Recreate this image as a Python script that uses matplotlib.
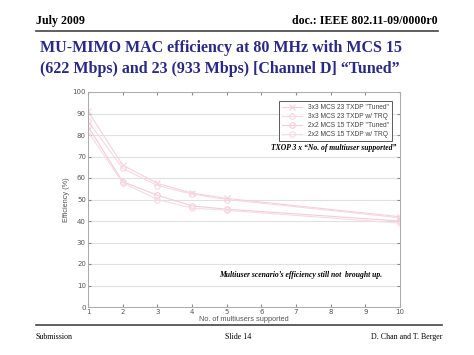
import numpy as np
import matplotlib.pyplot as plt
from matplotlib.lines import Line2D

# data
users = [1, 2, 3, 4, 5, 10]
eff_3x3_tuned = [91, 66, 57.5, 53, 50.5, 42]
eff_3x3_trq = [86.5, 64.5, 56.5, 52.5, 50, 41.5]
eff_2x2_tuned = [84, 58.3, 52, 47, 45.5, 40]
eff_2x2_trq = [81.5, 57.8, 50, 46, 45, 39]
labels = ['3x3 MCS 23 TXDP "Tuned"', '3x3 MCS 23 TXDP w/ TRQ',
          '2x2 MCS 15 TXDP "Tuned"', '2x2 MCS 15 TXDP w/ TRQ']

W, H = 474, 355
fig = plt.figure(figsize=(W / 100, H / 100), dpi=100)
fig.patch.set_facecolor('white')

serif = ['Liberation Serif', 'DejaVu Serif']
sans = ['Liberation Sans', 'DejaVu Sans']

# slide header
fig.text(36 / W, 1 - 21 / H, 'July 2009', family=serif, weight='bold', fontsize=8.6, va='center')
fig.text(438 / W, 1 - 21 / H, 'doc.: IEEE 802.11-09/0000r0', family=serif, weight='bold',
         fontsize=8.6, va='center', ha='right')
fig.add_artist(Line2D([36 / W, 438 / W], [1 - 31 / H, 1 - 31 / H], color='#444444', lw=1.2))
title_col = '#2a2a86'
fig.text(40 / W, 1 - 48 / H, 'MU-MIMO MAC efficiency at 80 MHz with MCS 15', family=serif,
         weight='bold', fontsize=11.5, color=title_col, va='center')
fig.text(40 / W, 1 - 69 / H, '(622 Mbps) and 23 (933 Mbps) [Channel D] \u201cTuned\u201d', family=serif,
         weight='bold', fontsize=11.5, color=title_col, va='center')

# slide footer
fig.add_artist(Line2D([36 / W, 442 / W], [1 - 325 / H, 1 - 325 / H], color='#444444', lw=1.2))
fig.text(36 / W, 1 - 337 / H, 'Submission', family=serif, fontsize=5.7, va='center')
fig.text(238 / W, 1 - 337 / H, 'Slide 14', family=serif, fontsize=5.7, va='center', ha='center')
fig.text(442 / W, 1 - 337 / H, 'D. Chan and T. Berger', family=serif, fontsize=5.7, va='center', ha='right')

# chart
ax = fig.add_axes([88 / W, 1 - 307 / H, 312 / W, 215 / H])
colors = ['#f7d0de', '#f5d8e3', '#f2cdd9', '#f6dbe3']
markers = ['x', 'o', 'o', 'o']
series = [eff_3x3_tuned, eff_3x3_trq, eff_2x2_tuned, eff_2x2_trq]
for vals, c, m, lab in zip(series, colors, markers, labels):
    ax.plot(users, vals, color=c, lw=0.8, marker=m, ms=4, mfc='none', mec=c, mew=0.8, label=lab)

ax.set_xlim(1, 10)
ax.set_ylim(0, 100)
ax.set_xticks(range(1, 11))
ax.set_yticks(range(0, 101, 10))
ax.grid(axis='y', color='#e0e0e0', lw=0.8)
ax.tick_params(labelsize=5, length=2, color='#888888', labelcolor='#555555', pad=1.5,
               direction='in', top=True, right=True)
for s in ax.spines.values():
    s.set_color('#aaaaaa')
    s.set_linewidth(0.7)
ax.set_xlabel('No. of multiusers supported', fontsize=5.3, family=sans, color='#555555', labelpad=1)
ax.set_ylabel('Efficiency (%)', fontsize=5.3, family=sans, color='#555555', labelpad=2)

leg = ax.legend(loc='upper right', frameon=True, fancybox=False,
                borderpad=0.5, labelspacing=0.3, handlelength=3.0,
                bbox_to_anchor=(0.985, 0.975), prop={'family': sans, 'size': 4.8})
leg.get_frame().set_edgecolor('#333333')
leg.get_frame().set_linewidth(0.7)
for t in leg.get_texts():
    t.set_color('#444444')

ax.text(9.9, 74, 'TXOP 3 x \u201cNo. of multiuser supported\u201d', family=serif, style='italic',
        weight='bold', fontsize=5.5, ha='right', va='center')
ax.text(9.5, 15, "Multiuser scenario\u2019s efficiency still not  brought up.", family=serif,
        style='italic', weight='bold', fontsize=5.5, ha='right', va='center')

fig.savefig('out.png', dpi=100, facecolor='white')
